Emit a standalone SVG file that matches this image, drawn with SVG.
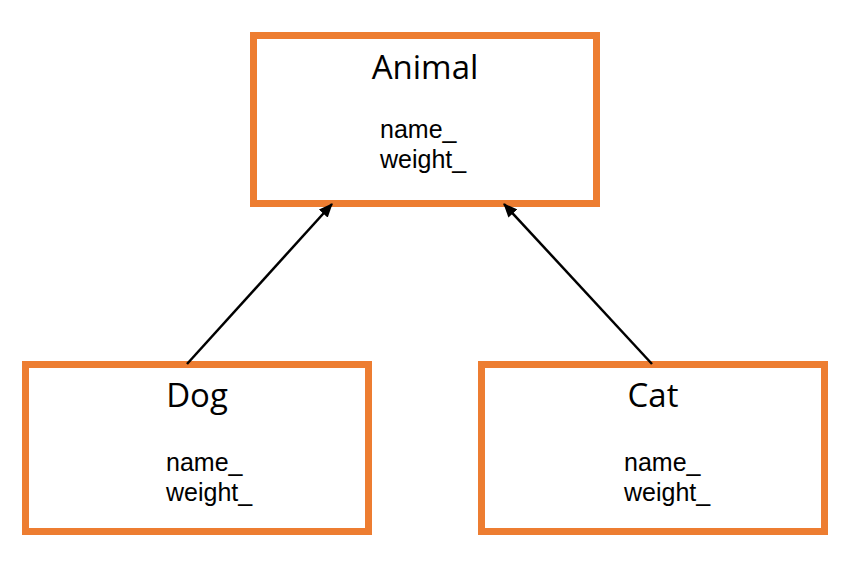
<svg xmlns="http://www.w3.org/2000/svg" width="849" height="587" viewBox="0 0 849 587">
<style>
.box{fill:#ffffff;stroke:#ED7D31;stroke-width:7}
.title{font-family:"Open Sans","Liberation Sans",sans-serif;font-size:33px;fill:#000;text-anchor:middle}
.attr{font-family:"Liberation Sans",Arial,sans-serif;font-size:25px;fill:#000}
.conn{stroke:#000;stroke-width:2.5;fill:none}
</style>
<defs>
<marker id="arrow" markerUnits="userSpaceOnUse" markerWidth="14" markerHeight="12" refX="13" refY="6" orient="auto">
<path d="M0,0 L14,6 L0,12 Z" fill="#000"/>
</marker>
</defs>
<rect width="849" height="587" fill="#ffffff"/>
<g id="animal">
<rect class="box" x="253.5" y="35.5" width="343" height="168"/>
<text class="title" x="425" y="79">Animal</text>
<text class="attr" x="380" y="138">name_</text>
<text class="attr" x="380" y="168">weight_</text>
</g>
<g id="dog">
<rect class="box" x="25.5" y="364.5" width="343" height="167"/>
<text class="title" x="197" y="407">Dog</text>
<text class="attr" x="166" y="471">name_</text>
<text class="attr" x="166" y="501">weight_</text>
</g>
<g id="cat">
<rect class="box" x="481.5" y="364.5" width="343" height="167"/>
<text class="title" x="653" y="407">Cat</text>
<text class="attr" x="624" y="471">name_</text>
<text class="attr" x="624" y="501">weight_</text>
</g>
<g id="connectors">
<line class="conn" x1="187" y1="364" x2="332" y2="204" marker-end="url(#arrow)"/>
<line class="conn" x1="652" y1="364" x2="504" y2="204" marker-end="url(#arrow)"/>
</g>
</svg>
